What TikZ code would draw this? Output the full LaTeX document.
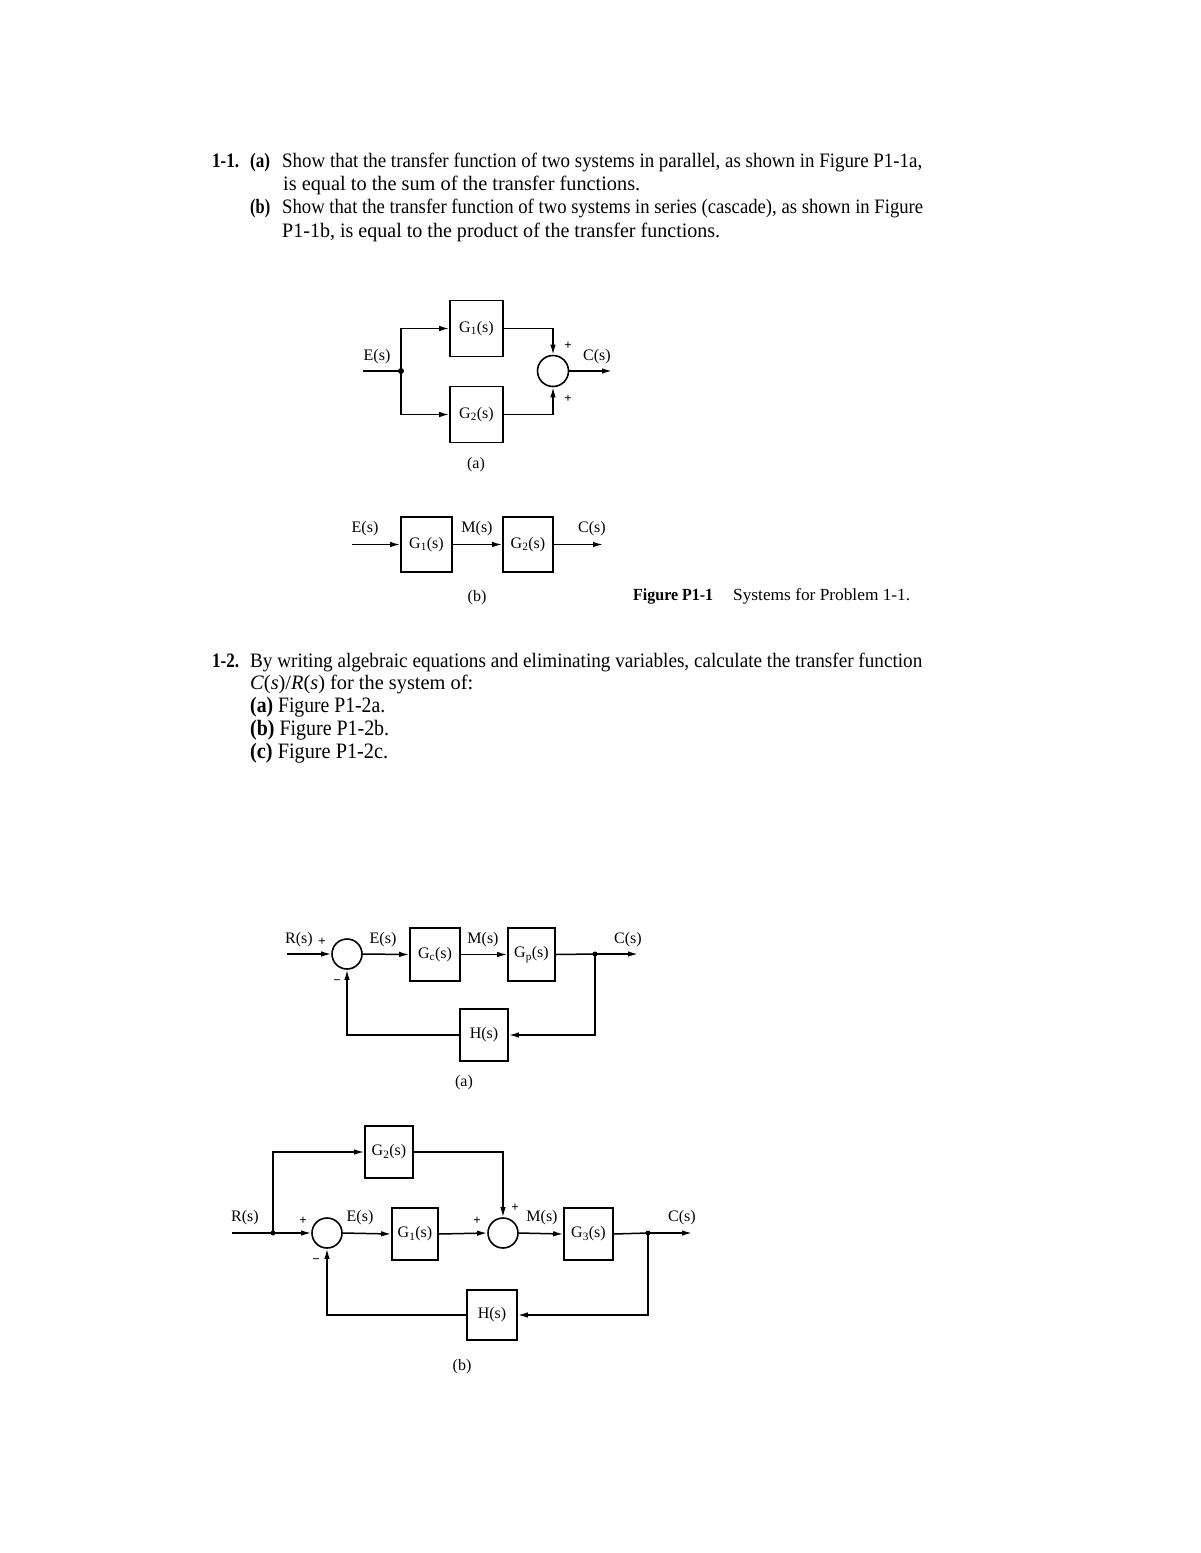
\documentclass[tikz,border=0pt]{standalone}
\usepackage{fontspec}
\setmainfont{Liberation Serif}
\usepackage{graphicx}
\usetikzlibrary{arrows.meta}
\newcommand{\fitw}[2]{\resizebox{#1}{\height}{#2}}
\begin{document}
\begin{tikzpicture}[x=1pt,y=-1pt,
  wire/.style={line width=1.5pt},
  arr/.style={wire,-{Latex[length=10pt,width=5.5pt]}},
  blk/.style={draw,line width=1.6pt,inner sep=0,font=\fontsize{16}{16}\selectfont},
  sumc/.style={draw,circle,line width=1.6pt,minimum size=31pt,inner sep=0},
  dot/.style={circle,fill,inner sep=0,minimum size=6pt},
  lbl/.style={inner sep=0,font=\fontsize{16}{16}\selectfont},
  sgn/.style={inner sep=0,font=\fontsize{13}{13}\selectfont\bfseries},
  txt/.style={anchor=base west,inner sep=0,font=\fontsize{20.5}{24}\selectfont},
  big/.style={anchor=base west,inner sep=0,font=\fontsize{22}{24}\selectfont}]
\useasboundingbox[fill=white] (0,0) rectangle (1200,1553);

% ---------------- Problem 1-1 text ----------------
\node[txt] (p1num) at (212,167) {\fitw{27pt}{\textbf{1-1.}}};
\node[txt] (p1a) at (250,167) {\fitw{20pt}{\textbf{(a)}}};
\node[txt] (p1l1) at (282,167) {\fitw{640pt}{Show that the transfer function of two systems in parallel, as shown in Figure P1-1a,}};
\node[txt] (p1l2) at (283,190) {\fitw{357pt}{is equal to the sum of the transfer functions.}};
\node[txt] (p1b) at (250,213) {\fitw{20pt}{\textbf{(b)}}};
\node[txt] (p1l3) at (282,213) {\fitw{641pt}{Show that the transfer function of two systems in series (cascade), as shown in Figure}};
\node[txt] (p1l4) at (282,237) {\fitw{438pt}{P1-1b, is equal to the product of the transfer functions.}};

% ---------------- Figure P1-1a ----------------
\coordinate (eina) at (363,371);
\node[dot] (ja) at (401,371) {};
\node[blk,minimum width=53pt,minimum height=56pt] (g1a) at (476.5,328.5) {G\textsubscript{1}(s)};
\node[blk,minimum width=53pt,minimum height=56pt] (g2a) at (476.5,414.5) {G\textsubscript{2}(s)};
\node[sumc] (sa) at (553,371) {};
\coordinate (couta) at (612,371);
\draw[wire] (eina) -- (ja.center);
\draw[arr] (ja.center) |- (g1a.west);
\draw[arr] (ja.center) |- (g2a.west);
\draw[arr] (g1a.east) -| (sa.north);
\draw[arr] (g2a.east) -| (sa.south);
\draw[arr] (sa.east) -- (couta);
\node[lbl] (ela) at (377,357) {E(s)};
\node[sgn] (pa1) at (568,346) {+};
\node[sgn] (pa2) at (568,399) {+};
\node[lbl] (cla) at (597,357) {C(s)};
\node[lbl] (capa) at (476,465) {(a)};

% ---------------- Figure P1-1b ----------------
\coordinate (einb) at (352,544.5);
\node[blk,minimum width=51pt,minimum height=55pt] (g1b) at (426.5,544.5) {G\textsubscript{1}(s)};
\node[blk,minimum width=50pt,minimum height=55pt] (g2b) at (528,544.5) {G\textsubscript{2}(s)};
\coordinate (coutb) at (603,544.5);
\draw[arr] (einb) -- (g1b.west);
\draw[arr] (g1b.east) -- (g2b.west);
\draw[arr] (g2b.east) -- (coutb);
\node[lbl] (elb) at (365,529) {E(s)};
\node[lbl] (mlb) at (477,529) {M(s)};
\node[lbl] (clb) at (592,529) {C(s)};
\node[lbl] (capb) at (477,598) {(b)};

% caption
\node[anchor=base west,inner sep=0,font=\fontsize{17}{17}\selectfont] (figcap) at (633,600) {\fitw{80pt}{\textbf{Figure P1-1}}};
\node[anchor=base west,inner sep=0,font=\fontsize{17}{17}\selectfont] (figcap2) at (733,600) {\fitw{177pt}{Systems for Problem 1-1.}};

% ---------------- Problem 1-2 text ----------------
\node[txt] (p2num) at (212,667) {\fitw{27pt}{\textbf{1-2.}}};
\node[txt] (p2l1) at (250,667) {\fitw{672pt}{By writing algebraic equations and eliminating variables, calculate the transfer function}};
\node[txt] (p2l2) at (250,689) {\fitw{223pt}{\textit{C}(\textit{s})/\textit{R}(\textit{s}) for the system of:}};
\node[big] (p2l3) at (250,712) {\fitw{135pt}{\textbf{(a)} Figure P1-2a.}};
\node[big] (p2l4) at (250,735) {\fitw{139pt}{\textbf{(b)} Figure P1-2b.}};
\node[big] (p2l5) at (250,758) {\fitw{138pt}{\textbf{(c)} Figure P1-2c.}};

% ---------------- Figure P1-2a ----------------
\coordinate (rina) at (287,954);
\node[sumc,minimum size=30pt] (s2) at (347,954) {};
\node[blk,minimum width=50pt,minimum height=53pt] (gc) at (435,954.5) {G\textsubscript{c}(s)};
\node[blk,minimum width=47pt,minimum height=53pt] (gp) at (531.5,954.5) {G\textsubscript{p}(s)};
\node[dot,minimum size=5pt] (j2) at (595,954) {};
\coordinate (cout2) at (638,954);
\node[blk,minimum width=48pt,minimum height=52pt] (h2) at (484,1035) {H(s)};
\draw[arr] (rina) -- (s2.west);
\draw[arr] (s2.east) -- (gc.west);
\draw[arr] (gc.east) -- (gp.west);
\draw[wire] (gp.east) -- (j2.center);
\draw[arr] (j2.center) -- (cout2);
\draw[arr] (j2.center) |- (h2.east);
\draw[arr] (h2.west) -| (s2.south);
\node[lbl] (rl2) at (299,940) {R(s)};
\node[sgn] (p2p) at (322,942) {+};
\node[sgn] (p2m) at (337,982) {−};
\node[lbl] (el2) at (383,940) {E(s)};
\node[lbl] (ml2) at (483,940) {M(s)};
\node[lbl] (cl2) at (628,940) {C(s)};
\node[lbl] (cap2a) at (464,1083) {(a)};

% ---------------- Figure P1-2b ----------------
\coordinate (rinb) at (232,1233);
\node[dot,minimum size=5pt] (j3) at (273,1233) {};
\node[sumc,minimum size=30pt] (s3) at (327,1233) {};
\node[blk,minimum width=48pt,minimum height=52pt] (g2c) at (389,1152) {G\textsubscript{2}(s)};
\node[blk,minimum width=46pt,minimum height=52pt] (g1c) at (415,1234) {G\textsubscript{1}(s)};
\node[sumc,minimum size=30pt] (s4) at (503,1233) {};
\node[blk,minimum width=49pt,minimum height=52pt] (g3c) at (588.5,1234) {G\textsubscript{3}(s)};
\node[dot,minimum size=5pt] (j4) at (648,1233) {};
\coordinate (coutc) at (692,1233);
\node[blk,minimum width=50pt,minimum height=50pt] (hc) at (492,1315) {H(s)};
\draw[wire] (rinb) -- (j3.center);
\draw[arr] (j3.center) -- (s3.west);
\draw[arr] (j3.center) |- (g2c.west);
\draw[arr] (g2c.east) -| (s4.north);
\draw[arr] (s3.east) -- (g1c.west);
\draw[arr] (g1c.east) -- (s4.west);
\draw[arr] (s4.east) -- (g3c.west);
\draw[wire] (g3c.east) -- (j4.center);
\draw[arr] (j4.center) -- (coutc);
\draw[arr] (j4.center) |- (hc.east);
\draw[arr] (hc.west) -| (s3.south);
\node[lbl] (rl3) at (245,1218) {R(s)};
\node[sgn] (p3p) at (303,1221) {+};
\node[sgn] (p3m) at (316,1261) {−};
\node[lbl] (el3) at (360,1218) {E(s)};
\node[sgn] (p4p) at (477,1221) {+};
\node[sgn] (p4t) at (515,1208) {+};
\node[lbl] (ml3) at (542,1218) {M(s)};
\node[lbl] (cl3) at (682,1218) {C(s)};
\node[lbl] (cap2b) at (462,1367) {(b)};
\end{tikzpicture}
\end{document}
